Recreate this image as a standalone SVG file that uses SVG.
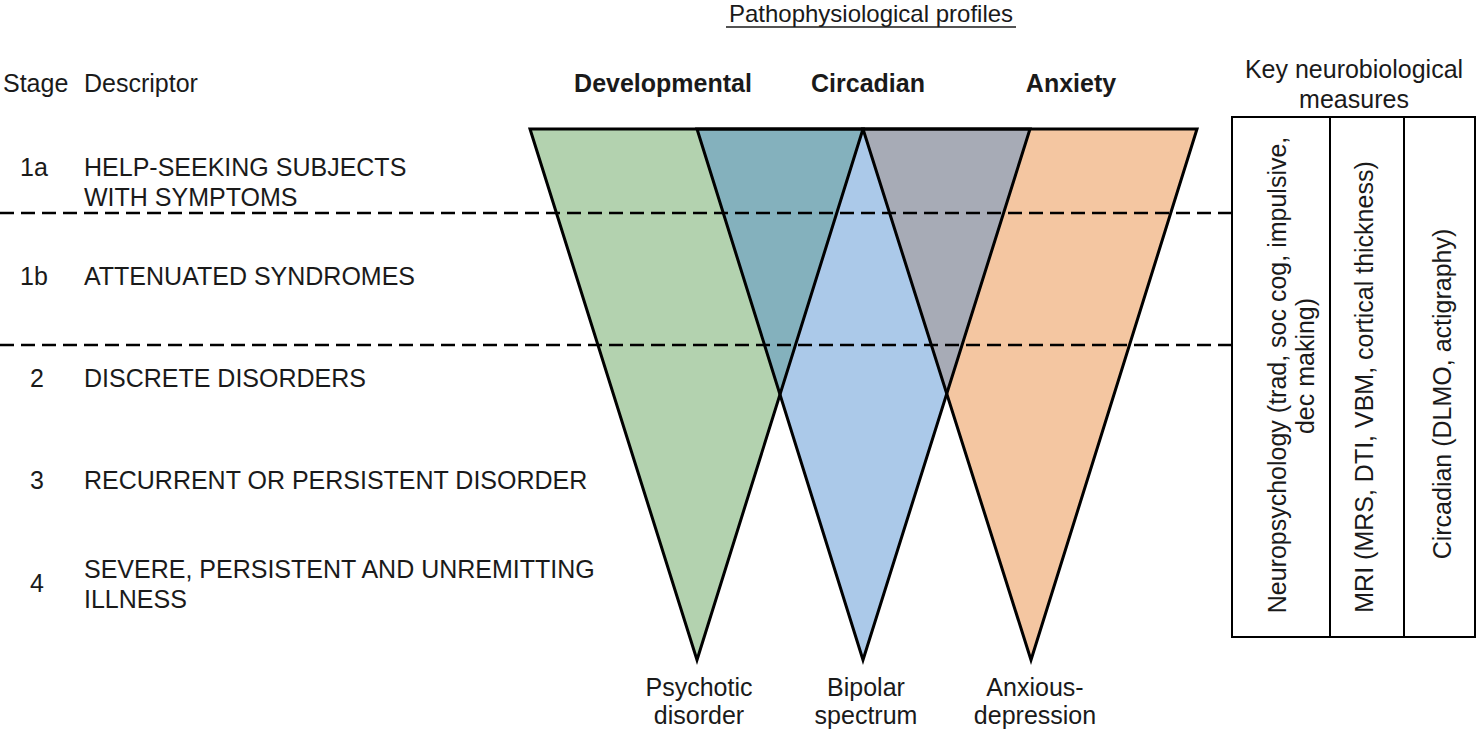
<svg xmlns="http://www.w3.org/2000/svg" width="1481" height="732" viewBox="0 0 1481 732">
<style>
text{font-family:"Liberation Sans",Arial,sans-serif;font-size:25px;fill:#1a1a1a}
.b{font-weight:bold}
.m{text-anchor:middle}
.tri{stroke:#000;stroke-width:3;stroke-linejoin:miter;fill:none}
.dash{stroke:#000;stroke-width:2.5;stroke-dasharray:14 7;fill:none}
.box{fill:#fff;stroke:#000;stroke-width:2}
</style>
<rect width="1481" height="732" fill="#fff"/>
<g id="title">
<text class="m" x="871" y="22" style="font-size:24px">Pathophysiological profiles</text>
<line x1="726" y1="27" x2="1016" y2="27" stroke="#1a1a1a" stroke-width="1.5"/>
</g>
<g id="headers">
<text x="3" y="92">Stage</text>
<text x="84" y="92">Descriptor</text>
<text class="b m" x="663" y="92">Developmental</text>
<text class="b m" x="868" y="92">Circadian</text>
<text class="b m" x="1071" y="92">Anxiety</text>
</g>
<g id="stages">
<text x="20" y="176">1a</text>
<text x="84" y="176">HELP-SEEKING SUBJECTS</text>
<text x="84" y="206">WITH SYMPTOMS</text>
<text x="20" y="285">1b</text>
<text x="84" y="285">ATTENUATED SYNDROMES</text>
<text x="30" y="387">2</text>
<text x="84" y="387">DISCRETE DISORDERS</text>
<text x="30" y="489">3</text>
<text x="84" y="489">RECURRENT OR PERSISTENT DISORDER</text>
<text x="30" y="592">4</text>
<text x="84" y="578">SEVERE, PERSISTENT AND UNREMITTING</text>
<text x="84" y="608">ILLNESS</text>
</g>
<g id="profiles">
<polygon points="530,129 863,129 697,660" fill="#b3d2af"/>
<polygon points="697,129 1030,129 863,660" fill="#abc9e9"/>
<polygon points="863,129 1197,129 1031,660" fill="#f4c6a1"/>
<polygon points="697,129 863,129 780,394.5" fill="#84b1bd"/>
<polygon points="863,129 1030,129 946.6,394.5" fill="#a7abb6"/>
<polygon class="tri" points="530,129 863,129 697,660"/>
<polygon class="tri" points="697,129 1030,129 863,660"/>
<polygon class="tri" points="863,129 1197,129 1031,660"/>
</g>
<g id="outcomes">
<text class="m" x="699" y="696">Psychotic</text>
<text class="m" x="699" y="724">disorder</text>
<text class="m" x="866" y="696">Bipolar</text>
<text class="m" x="866" y="724">spectrum</text>
<text class="m" x="1035" y="696">Anxious-</text>
<text class="m" x="1035" y="724">depression</text>
</g>
<g id="connectors">
<line class="dash" x1="0" y1="213" x2="1232" y2="213"/>
<line class="dash" x1="0" y1="345" x2="1232" y2="345"/>
</g>
<g id="measures">
<text class="m" x="1354" y="78">Key neurobiological</text>
<text class="m" x="1354" y="108">measures</text>
<rect class="box" x="1232" y="117" width="243" height="520"/>
<line x1="1330" y1="117" x2="1330" y2="637" stroke="#000" stroke-width="2"/>
<line x1="1404" y1="117" x2="1404" y2="637" stroke="#000" stroke-width="2"/>
<text class="m" transform="translate(1286,375) rotate(-90)">Neuropsychology (trad, soc cog, impulsive,</text>
<text class="m" transform="translate(1314,366) rotate(-90)">dec making)</text>
<text class="m" transform="translate(1373,387) rotate(-90)">MRI (MRS, DTI, VBM, cortical thickness)</text>
<text class="m" transform="translate(1451,394) rotate(-90)">Circadian (DLMO, actigraphy)</text>
</g>
</svg>
